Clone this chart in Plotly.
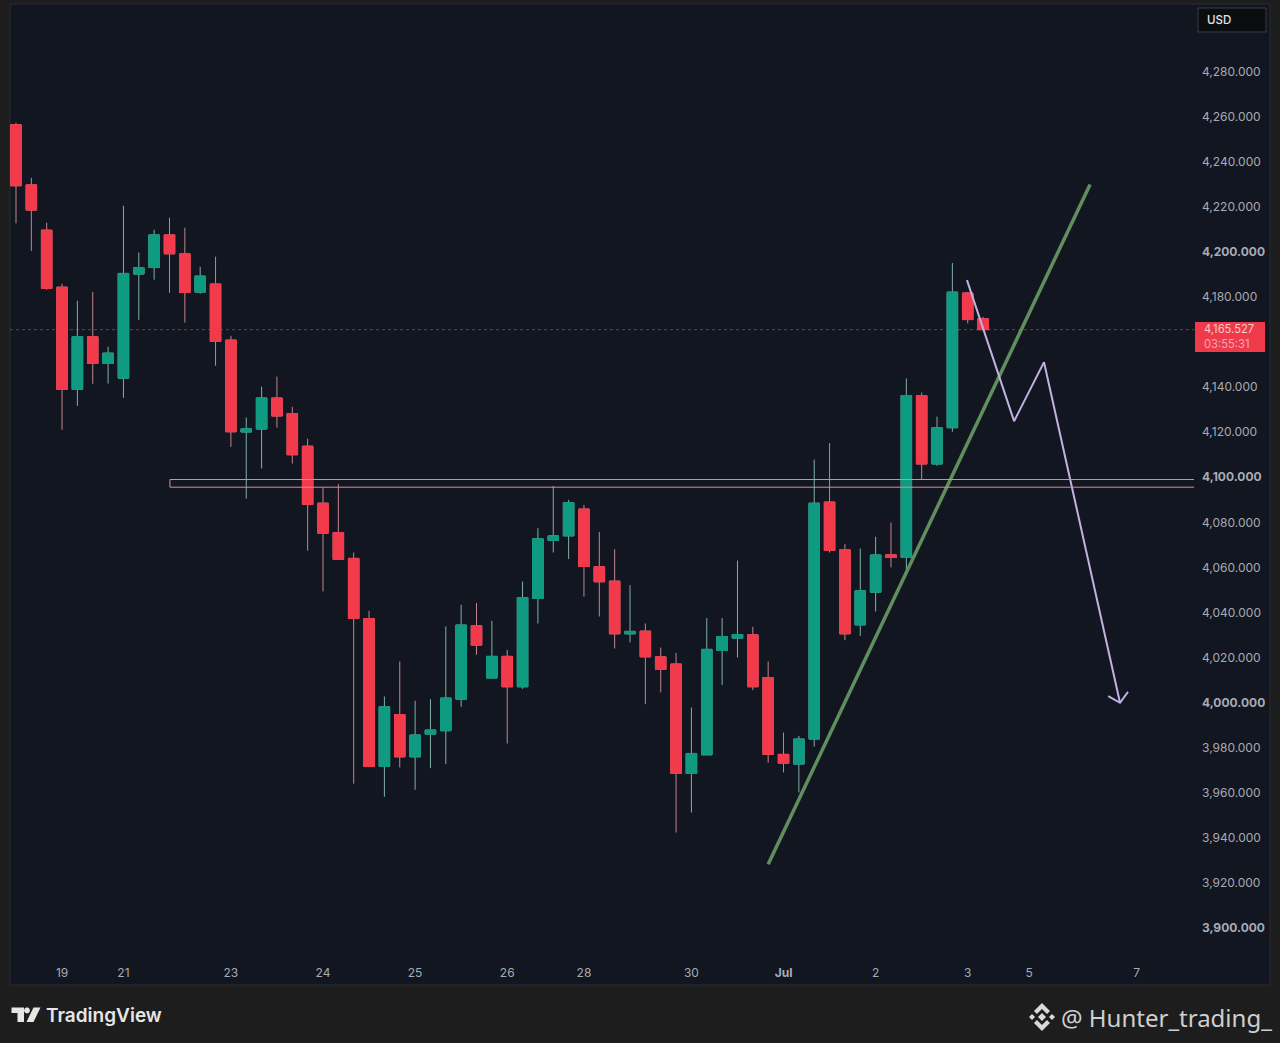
import plotly.graph_objects as go

# candle index on the time axis, one bar per session step
bars = list(range(64))

opens = [4256.5, 4229.8, 4209.7, 4184.4, 4139.0, 4162.4, 4150.5, 4144.0,
         4190.2, 4193.1, 4207.6, 4199.2, 4182.2, 4185.8, 4160.9, 4120.1,
         4121.4, 4135.2, 4128.3, 4113.8, 4088.5, 4075.5, 4064.0, 4037.3,
         3971.6, 3994.7, 3975.9, 3986.0, 3987.5, 4001.5, 4034.1, 4010.9,
         4020.5, 4007.0, 4046.2, 4072.0, 4074.0, 4085.9, 4060.3, 4053.9,
         4030.5, 4031.7, 4020.3, 4017.1, 3968.5, 3976.8, 4023.1, 4028.6,
         4030.1, 4011.1, 3977.0, 3972.7, 3983.8, 4089.0, 4067.8, 4034.5,
         4049.0, 4065.6, 4064.4, 4136.3, 4105.9, 4122.0, 4181.8, 4170.4]
closes = [4229.4, 4218.6, 4183.8, 4139.0, 4162.4, 4150.5, 4155.1, 4190.5,
          4193.1, 4207.6, 4199.2, 4182.0, 4189.3, 4160.3, 4120.2, 4121.5,
          4135.2, 4127.2, 4110.0, 4087.9, 4075.2, 4063.5, 4037.3, 3971.6,
          3998.1, 3975.9, 3985.6, 3987.8, 4002.0, 4034.4, 4025.5, 4020.5,
          4007.0, 4046.6, 4072.7, 4074.0, 4088.7, 4060.4, 4053.6, 4030.5,
          4031.6, 4020.3, 4014.7, 3968.5, 3977.4, 4023.6, 4029.3, 4030.2,
          4007.0, 3977.0, 3973.1, 3983.8, 4088.5, 4067.5, 4030.5, 4049.6,
          4065.5, 4064.4, 4136.3, 4105.9, 4122.0, 4182.2, 4170.0, 4165.527]
highs = [4257.4, 4232.9, 4213.0, 4185.9, 4178.3, 4182.3, 4157.9, 4220.5,
         4199.8, 4209.9, 4215.2, 4210.8, 4193.4, 4197.9, 4162.8, 4126.5,
         4140.2, 4144.7, 4131.3, 4117.1, 4095.5, 4097.0, 4066.6, 4040.7,
         4002.7, 4018.2, 4000.8, 4001.5, 4033.8, 4043.4, 4044.2, 4036.3,
         4023.4, 4053.7, 4077.4, 4096.1, 4090.0, 4087.7, 4075.7, 4068.1,
         4052.1, 4035.1, 4024.4, 4022.0, 3997.8, 4037.5, 4037.5, 4063.0,
         4033.6, 4018.2, 3986.7, 3985.2, 4107.8, 4115.2, 4070.3, 4068.4,
         4073.6, 4079.9, 4143.9, 4137.6, 4126.9, 4195.1, 4182.3, 4171.2]
lows = [4212.7, 4200.5, 4183.2, 4121.1, 4131.7, 4141.5, 4141.6, 4135.3,
        4169.9, 4187.7, 4181.9, 4168.7, 4181.5, 4149.5, 4113.5, 4090.5,
        4103.9, 4122.0, 4106.1, 4067.4, 4049.3, 4063.4, 3964.0, 3971.5,
        3958.2, 3971.2, 3961.3, 3970.9, 3972.7, 3998.1, 4021.2, 4010.8,
        3981.8, 4006.1, 4035.1, 4066.6, 4063.7, 4047.0, 4038.2, 4024.0,
        4026.7, 3999.3, 4004.5, 3942.3, 3951.2, 3976.8, 4007.8, 4020.0,
        4005.5, 3973.3, 3969.0, 3960.1, 3980.5, 4066.6, 4027.7, 4029.6,
        4040.4, 4060.0, 4057.7, 4099.2, 4105.1, 4120.2, 4168.3, 4165.2]

price_ticks = [4280, 4260, 4240, 4220, 4200, 4180, 4160, 4140, 4120, 4100,
               4080, 4060, 4040, 4020, 4000, 3980, 3960, 3940, 3920, 3900]
date_ticks = [3, 7, 14, 20, 26, 32, 37, 44, 50, 56, 62, 66, 73]
date_labels = ['19', '21', '23', '24', '25', '26', '28', '30', '<b>Jul</b>', '2', '3', '5', '7']

# drawings on the chart
trend_x = [49.0, 69.97]
trend_y = [3928.2, 4230.0]
path_x = [61.95, 65.02, 66.97, 71.92]
path_y = [4187.5, 4124.9, 4151.1, 3999.9]
arrow_x = [71.15, 71.92, 72.44]
arrow_y = [4002.9, 3999.9, 4004.7]
zone_top = 4099.0
zone_bottom = 4095.6
zone_start = 10.03
last_price = 4165.527

BG = '#121620'
FOOT = '#1d1d1d'
GREEN = '#0e9b82'
RED = '#f23a4b'
WICK_GREEN = '#7fb0a6'
WICK_RED = '#c4848b'

# plot area in page pixels
W, H = 1280, 1043
L, R, T, B = 10, 1194, 4, 962


def px(x, y):
    return (x - L) / (R - L), (B - y) / (B - T)


def poly(points, fill='#e6e6e6'):
    d = ''
    for i, (x, y) in enumerate(points):
        a, b = px(x, y)
        d += ('M' if i == 0 else 'L') + f'{a:.5f},{b:.5f} '
    return dict(type='path', xref='paper', yref='paper', path=d + 'Z',
                fillcolor=fill, line_width=0, layer='above')


def box(x0, y0, x1, y1, fill, line=None, layer='below'):
    a0, b0 = px(x0, y0)
    a1, b1 = px(x1, y1)
    return dict(type='rect', xref='paper', yref='paper', x0=a0, y0=b0, x1=a1, y1=b1,
                fillcolor=fill, line=dict(color=line or fill, width=1 if line else 0), layer=layer)


def text(x, y, s, size, color, family='Inter', anchor='left', weight=None):
    a, b = px(x, y)
    return dict(xref='paper', yref='paper', x=a, y=b, text=s, showarrow=False,
                xanchor=anchor, yanchor='middle', align='left', borderpad=0,
                font=dict(family=family, size=size, color=color, weight=weight))


fig = go.Figure()

# wicks first, paler than the bodies
fig.add_trace(go.Candlestick(
    x=bars, open=opens, high=highs, low=lows, close=closes,
    increasing=dict(line=dict(color=WICK_GREEN, width=1), fillcolor=GREEN),
    decreasing=dict(line=dict(color=WICK_RED, width=1), fillcolor=RED),
    hoverinfo='skip', showlegend=False,
))
# bodies again on top so the outline takes the body colour
fig.add_trace(go.Candlestick(
    x=bars, open=opens, close=closes,
    high=[max(o, c) for o, c in zip(opens, closes)],
    low=[min(o, c) for o, c in zip(opens, closes)],
    increasing=dict(line=dict(color=GREEN, width=1), fillcolor=GREEN),
    decreasing=dict(line=dict(color=RED, width=1), fillcolor=RED),
    hoverinfo='skip', showlegend=False,
))

fig.add_trace(go.Scatter(x=trend_x, y=trend_y, mode='lines', showlegend=False, hoverinfo='skip',
                         line=dict(color='#5f8f5e', width=3.5)))
fig.add_trace(go.Scatter(x=path_x, y=path_y, mode='lines', showlegend=False, hoverinfo='skip',
                         line=dict(color='#c2b1e0', width=2)))
fig.add_trace(go.Scatter(x=arrow_x, y=arrow_y, mode='lines', showlegend=False, hoverinfo='skip',
                         line=dict(color='#c2b1e0', width=2)))

shapes = [
    box(10, 4, 1270, 985, BG, '#2b2d33'),
    # support zone
    dict(type='rect', xref='x', yref='y', x0=zone_start, x1=90, y0=zone_bottom, y1=zone_top,
         line=dict(color='#d98f95', width=1), layer='above'),
    # last price line
    dict(type='line', xref='paper', yref='y', x0=0, x1=1, y0=last_price, y1=last_price,
         line=dict(color='#7c3a43', width=1, dash='dot'), layer='below'),
    # USD button and price tag
    box(1198, 8, 1266, 32, '#0c0d10', '#3a3b40', layer='above'),
    box(1195, 322, 1265, 352, '#ee3a4b', layer='above'),
    # TradingView mark
    poly([(11.5, 1007.5), (24, 1007.5), (24, 1022), (17.5, 1022), (17.5, 1013), (11.5, 1013)]),
    poly([(27, 1007.3), (29.2, 1008.2), (30, 1010.4), (29.2, 1012.6), (27, 1013.5), (24.8, 1012.6), (24, 1010.4), (24.8, 1008.2)]),
    poly([(33.5, 1007.5), (40.5, 1007.5), (33.5, 1022), (26.5, 1022)]),
    # Binance mark
    poly([(1042, 1003), (1050, 1011), (1047, 1014), (1042, 1009), (1037, 1014), (1034, 1011)], '#d9d9d9'),
    poly([(1042, 1031), (1050, 1023), (1047, 1020), (1042, 1025), (1037, 1020), (1034, 1023)], '#d9d9d9'),
    poly([(1042, 1013), (1046, 1017), (1042, 1021), (1038, 1017)], '#d9d9d9'),
    poly([(1032, 1014), (1035, 1017), (1032, 1020), (1029, 1017)], '#d9d9d9'),
    poly([(1052, 1014), (1055, 1017), (1052, 1020), (1049, 1017)], '#d9d9d9'),
]

annotations = [
    text(1206, 20, 'USD', 11.5, '#e4e4e4', weight=500),
    text(1203, 336, '4,165.527<br><span style="color:#f3a9b0">03:55:31</span>', 11.2, '#f6c9cd'),
    text(45, 1015, 'TradingView', 19, '#e6e6e6', weight=600),
    text(1060, 1017, '@ Hunter_trading_', 24, '#cfcfcf', family='Noto Sans'),
]

fig.update_layout(
    width=W, height=H,
    margin=dict(l=L, r=W - R, t=T, b=H - B, autoexpand=False),
    paper_bgcolor=FOOT,
    plot_bgcolor='rgba(0,0,0,0)',
    showlegend=False,
    dragmode=False,
    boxgap=0.22,
    boxgroupgap=0.12,
    font=dict(family='Inter', size=12, color='#b2b5bd'),
    shapes=shapes,
    annotations=annotations,
    xaxis=dict(
        range=[-0.39, 76.74],
        rangeslider=dict(visible=False),
        showgrid=False, zeroline=False, showline=False, ticks='',
        tickmode='array', tickvals=date_ticks, ticktext=date_labels,
        ticklabelstandoff=2,
        tickfont=dict(size=12, color='#a8abb3'),
    ),
    yaxis=dict(
        side='right',
        range=[3884.83, 4310.09],
        showgrid=False, zeroline=False, showline=False, ticks='',
        tickmode='array', tickvals=price_ticks,
        ticktext=[f'<b>{p:,}.000</b>' if p % 100 == 0 else f'{p:,}.000' for p in price_ticks],
        ticklabelstandoff=7,
        tickfont=dict(size=12, color='#a8abb3'),
    ),
)

fig.write_html('out.html', config=dict(displayModeBar=False),
               post_script="document.body.style.margin='0';document.body.style.overflow='hidden';")
